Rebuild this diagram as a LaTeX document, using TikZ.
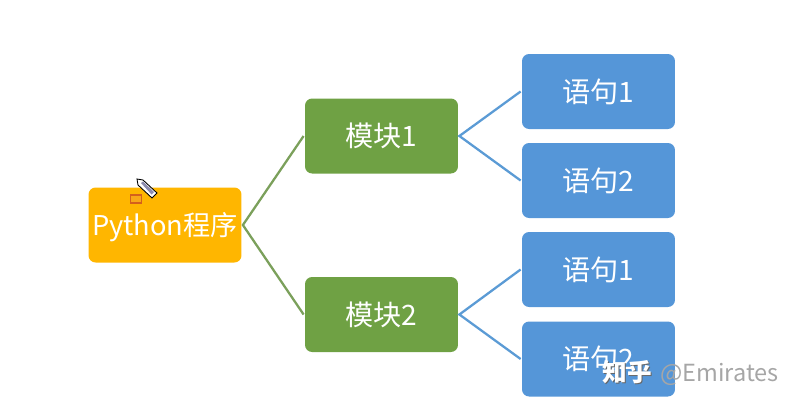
\documentclass[tikz,border=0pt]{standalone}
\usepackage{fontspec}
\setmainfont{Noto Sans CJK SC}
\usetikzlibrary{positioning}
\definecolor{rootfill}{HTML}{FFB600}
\definecolor{modfill}{HTML}{6FA144}
\definecolor{stmtfill}{HTML}{5596D8}
\definecolor{modline}{HTML}{7BA05B}
\definecolor{stmtline}{HTML}{5B9BD5}
\definecolor{pencilbody}{HTML}{8C8CB0}
\definecolor{tagline}{HTML}{D4601C}
\definecolor{tagfill}{HTML}{F8A818}
\tikzset{
  box/.style={rounded corners=4pt, minimum width=3.06cm, minimum height=1.5cm, inner sep=0pt, outer sep=0.8pt,
    text=white, font=\fontsize{16}{18}\selectfont},
  rootbox/.style={box, fill=rootfill, font=\fontsize{15.5}{18}\selectfont},
  modbox/.style={box, fill=modfill},
  stmtbox/.style={box, fill=stmtfill},
  modlink/.style={draw=modline, line width=1.3pt},
  stmtlink/.style={draw=stmtline, line width=1.3pt},
}
\begin{document}
\begin{tikzpicture}[x=0.02cm, y=-0.02cm]
    \useasboundingbox (0, 0) rectangle (799, 407);

    \node[rootbox] (root) at (165, 225) {\raisebox{-6pt}[7pt][7pt]{Python程序}};
    \node[modbox] (mod1) at (381.5, 136) {模块1};
    \node[modbox] (mod2) at (381.5, 314.5) {模块2};
    \node[stmtbox] (s1) at (598.5, 91.5) {语句1};
    \node[stmtbox] (s2) at (598.5, 180.5) {语句2};
    \node[stmtbox] (s3) at (598.5, 269.5) {语句1};
    \node[stmtbox] (s4) at (598.5, 359) {语句2};

    \draw[modlink] (mod1.west) -- (root.east) -- (mod2.west);
    \draw[stmtlink] (s1.west) -- (mod1.east) -- (s2.west);
    \draw[stmtlink] (s3.west) -- (mod2.east) -- (s4.west);

    % pencil cursor
    \draw[black, fill=white, line width=0.5pt] (137, 179) -- (143, 180) -- (157, 193) -- (152, 198) -- (138, 185) -- cycle;
    \fill[pencilbody] (141, 183) -- (143, 181.5) -- (154, 192) -- (151.5, 194.5) -- cycle;
    \draw[draw=tagline, fill=tagfill, line width=0.6pt] (130.5, 195) rectangle (141.5, 203);

    % watermark
    \node[text=black!60, font=\fontsize{14}{18}\selectfont\bfseries] at (628, 373.5) {知乎};
    \node[text=white, font=\fontsize{14}{18}\selectfont\bfseries] (mark) at (627, 372.5) {知乎};
    \node[text=black!35, font=\fontsize{13.4}{18}\selectfont, anchor=west, inner sep=0pt] (name) at (660, 374) {@Emirates};
\end{tikzpicture}
\end{document}
